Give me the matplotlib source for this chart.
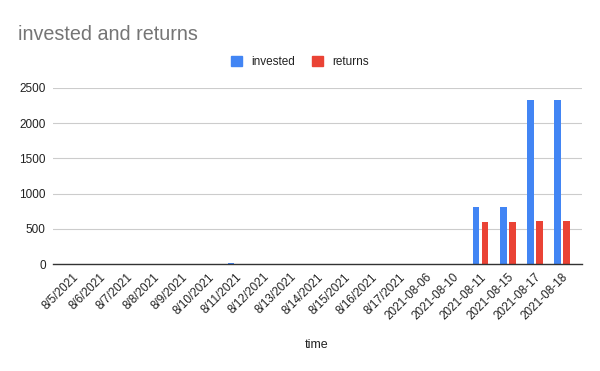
import matplotlib
matplotlib.use("Agg")
import matplotlib.pyplot as plt
import numpy as np
from matplotlib.patches import Patch

plt.rcParams['font.family'] = ['Liberation Sans', 'DejaVu Sans']

categories = ["8/5/2021", "8/6/2021", "8/7/2021", "8/8/2021", "8/9/2021", "8/10/2021",
              "8/11/2021", "8/12/2021", "8/13/2021", "8/14/2021", "8/15/2021", "8/16/2021",
              "8/17/2021", "2021-08-06", "2021-08-10", "2021-08-11", "2021-08-15",
              "2021-08-17", "2021-08-18"]
invested = [0, 0, 0, 0, 0, 0, 15, 0, 0, 0, 0, 0, 0, 0, 0, 810, 810, 2330, 2330]
returns = [0, 0, 0, 0, 0, 0, 0, 0, 0, 0, 0, 0, 0, 0, 0, 600, 600, 612, 612]
yticks = [0, 500, 1000, 1500, 2000, 2500]

blue = "#4285F4"
red = "#EA4335"

fig = plt.figure(figsize=(6, 3.71), dpi=100)
ax = fig.add_axes([0.0878, 0.288, 0.8817, 0.475])

x = np.arange(len(categories))
w = 0.245
off = 0.165
ax.bar(x - off, invested, width=w, color=blue, zorder=3)
ax.bar(x + off, returns, width=w, color=red, zorder=3)

ax.set_xlim(-0.72, len(categories) - 1 + 0.72)
ax.set_ylim(0, 2500)
ax.set_yticks(yticks)
ax.set_yticklabels([str(v) for v in yticks], fontsize=8.5, color="#222222")
ax.yaxis.grid(True, color="#cccccc", linewidth=0.8, zorder=0)
ax.set_xticks(x)
ax.set_xticklabels(categories, rotation=45, ha="right", rotation_mode="anchor",
                   fontsize=8.5, color="#222222")
ax.tick_params(axis="both", length=0, pad=5)
for s in ["top", "right", "left"]:
    ax.spines[s].set_visible(False)
ax.spines["bottom"].set_color("#333333")
ax.spines["bottom"].set_linewidth(1)
ax.spines["bottom"].set_zorder(4)

fig.text(317 / 600, 1 - 345 / 371, "time", ha="center", va="center", fontsize=9, color="#222222")

fig.text(0.03, 0.908, "invested and returns", fontsize=14.2, color="#757575", ha="left", va="center")

handles = [Patch(color=blue, label="invested"), Patch(color=red, label="returns")]
fig.legend(handles=handles, loc="center", bbox_to_anchor=(0.5, 0.833), ncol=2,
           frameon=False, fontsize=8.5, handlelength=0.93, handleheight=0.93,
           columnspacing=1.4, handletextpad=0.82, borderpad=0, labelcolor="#222222")

fig.savefig("out.png", dpi=100)
